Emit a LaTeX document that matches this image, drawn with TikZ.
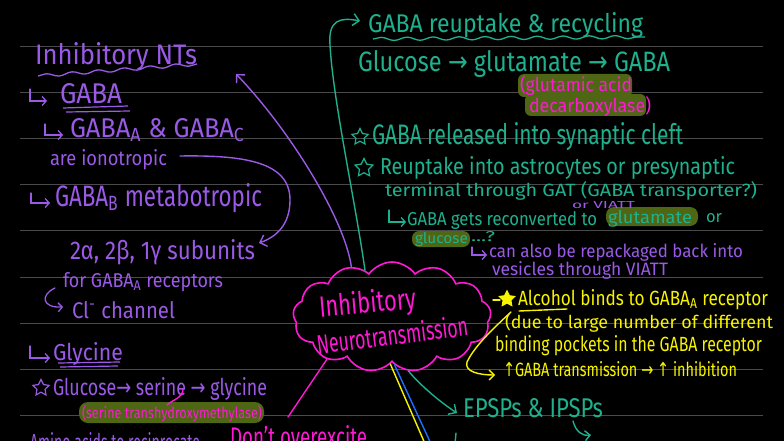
\documentclass[tikz,border=0pt]{standalone}
\usepackage{fontspec}
\usepackage{graphicx}
\setmainfont{Fira Sans}
\newfontfamily\sym{DejaVu Sans}
\usetikzlibrary{arrows.meta,shapes.symbols,shapes.geometric,decorations.pathmorphing}
\definecolor{cpurple}{HTML}{9A5AE6}
\definecolor{cteal}{HTML}{1FB08E}
\definecolor{cmag}{HTML}{FF19D4}
\definecolor{cyel}{HTML}{F8F400}
\definecolor{cblue}{HTML}{1F6FFF}
\definecolor{colive}{HTML}{4F6614}
\definecolor{crule}{HTML}{4A4A4A}
\newcommand\rsz[3]{\resizebox{#1pt}{#2pt}{#3}}
\tikzset{
 txt/.style={anchor=base west, inner sep=0pt, outer sep=0pt},
 conn/.style={line width=1.4pt, line cap=round},
 hook/.style={line width=1.3pt, line cap=round, -{Straight Barb[length=4pt,width=9pt]}},
 tip/.style={-{Straight Barb[length=6pt,width=12pt]}},
 hl/.style={fill=colive, rounded corners=6pt},
 rule/.style={draw=crule, line width=0.8pt},
 starn/.style={star, star points=5, star point ratio=2, draw, line width=1.2pt, inner sep=0pt},
 wavy/.style={decorate, decoration={snake, amplitude=1.6pt, segment length=26pt}, line width=1.3pt},
}
\begin{document}
\begin{tikzpicture}[x=1pt,y=-1pt]
\useasboundingbox (0,0) rectangle (784,441);
\fill[black] (0,0) rectangle (784,441);
\begin{scope}
\clip (0,0) rectangle (784,441);
\foreach \yy in {46,92.3,138.3,184.5,230.7,277,323.2,369.4,415.6}
  \draw[rule] (20,\yy) -- (763,\yy);

% highlights
\fill[hl] (518,74) rectangle (632,97);
\fill[hl] (525,94) rectangle (646,116);
\fill[hl, rounded corners=8pt] (606,207) rectangle (698,226);
\fill[hl, rounded corners=7pt] (412,231) rectangle (470,247);
\fill[hl, rounded corners=9pt] (79,402) rectangle (264,423);

% ---------- left column (purple)
\begin{scope}[cpurple]
\node[txt, text=cpurple] (t1) at (35,65) {\rsz{162}{22}{Inhibitory NTs}};
\draw[wavy, cpurple] (38,76) -- (197,64);
\draw[hook, cpurple] (30,89) |- (47,101);
\node[txt, text=cpurple] (t2) at (60,103) {\rsz{62}{20}{GABA}};
\draw[line width=1.2pt, cpurple] (63,108) -- (128,106);
\draw[line width=1.2pt, cpurple] (66,112) -- (130,111);
\draw[hook, cpurple] (45,124) |- (63,135);
\node[txt, text=cpurple] (t3) at (70,137) {\rsz{175}{19}{GABA\textsubscript{A} \& GABA\textsubscript{C}}};
\node[txt, text=cpurple] (t4) at (50,165) {\rsz{117}{16}{are ionotropic}};
\draw[hook, cpurple] (31,193) |- (50,203);
\node[txt, text=cpurple] (t5) at (55,206) {\rsz{207}{23}{GABA\textsubscript{B} metabotropic}};
\node[txt, text=cpurple] (t6) at (70,259) {\rsz{185}{20}{2α, 2β, 1γ subunits}};
\node[txt, text=cpurple] (t7) at (63,287) {\rsz{160}{15}{for GABA\textsubscript{A} receptors}};
\draw[hook, cpurple] (55,288) .. controls (40,295) and (42,308) .. (63,307);
\node[txt, text=cpurple] (t8) at (72,318) {\rsz{103}{17}{Cl\textsuperscript{-} channel}};
\draw[hook, cpurple] (30,346) |- (50,358);
\node[txt, text=cpurple] (t9) at (53,360) {\rsz{70}{18}{Glycine}};
\draw[line width=1.2pt, cpurple] (58,363) -- (120,362);
\draw[line width=1.2pt, cpurple] (60,367) -- (118,366);
\node[starn, draw=cpurple, minimum size=17pt] (s3) at (41,388) {};
\node[txt, text=cpurple] (t10) at (53,395) {\rsz{214}{18}{Glucose{\sym→} serine {\sym→} glycine}};
\node[txt, text=cpurple] (t12) at (30,450) {\rsz{170}{18}{Amino acids to reciprocate}};
\coordinate (t4end) at (180,156);
\coordinate (t6tip) at (259,243);
\draw[conn, tip, cpurple] (t4end) .. controls (245,155) and (290,162) .. (290,200) .. controls (290,225) and (276,237) .. (t6tip);
\end{scope}

% magenta left
\node[txt, text=cmag] (m1) at (82,418) {\rsz{180}{13}{(serine transhydroxymethylase)}};
\draw[conn, cmag] (183,389) .. controls (183,398) and (172,400) .. (167,405);
\node[txt, text=cmag] (m4) at (230,446) {\rsz{137}{21}{Don't overexcite}};

% ---------- cloud
\node[cloud, draw=cmag, line width=1.6pt, cloud puffs=13, cloud puff arc=110,
      minimum width=198pt, minimum height=110pt, inner sep=0pt] (cloud) at (392,317) {};
\node[txt, text=cmag, rotate=5] (c1) at (320,317) {\rsz{97}{23}{Inhibitory}};
\node[txt, text=cmag, rotate=7] (c2) at (318,354) {\rsz{152}{21}{Neurotransmission}};

% connectors from cloud
\coordinate (ntsarrow) at (236,74);
\draw[conn, tip, cpurple] (cloud.129) .. controls (345,220) and (290,130) .. (ntsarrow);
\coordinate (reup) at (360,21);
\draw[conn, tip, cteal] (cloud.120) .. controls (355,200) and (333,100) .. (330,45) .. controls (328,20) and (340,17) .. (reup);
\coordinate (dont) at (288,417);
\draw[conn, cmag] (cloud.213) -- (dont);
\coordinate (ybot) at (426,446);
\draw[conn, cyel] (cloud.268) -- (ybot);
\coordinate (bbot) at (432,446);
\draw[conn, cblue] (cloud.273) -- (bbot);
\coordinate (epin) at (457,413);
\draw[conn, tip, cteal] (cloud.287) .. controls (420,385) and (440,402) .. (epin);

% ---------- right teal
\node[txt, text=cteal] (r1) at (368,33) {\rsz{275}{20}{GABA reuptake \& recycling}};
\draw[wavy, cteal] (373,39) -- (645,37);
\node[txt, text=cteal] (r2) at (358,72) {\rsz{312}{21}{Glucose {\sym→} glutamate {\sym→} GABA}};
\node[txt, text=cmag] (m2) at (520,92) {\rsz{112}{16}{(glutamic acid}};
\node[txt, text=cmag] (m3) at (529,112) {\rsz{122}{16}{decarboxylase)}};
\node[starn, draw=cteal, minimum size=17pt] (s1) at (360,137) {};
\node[txt, text=cteal] (r4) at (372,145) {\rsz{311}{22}{GABA released into synaptic cleft}};
\node[starn, draw=cteal, minimum size=19pt] (s2) at (364,168) {};
\node[txt, text=cteal] (r5) at (380,175) {\rsz{355}{18}{Reuptake into astrocytes or presynaptic}};
\node[txt, text=cteal] (r6) at (385,196) {\rsz{372}{15}{terminal through GAT (GABA transporter?)}};
\node[txt, text=cpurple] (p1) at (572,208) {\rsz{63}{7}{or VIATT}};
\draw[hook, cteal] (389,210) |- (406,222);
\node[txt, text=cteal] (r8a) at (407,225) {\rsz{190}{14}{GABA gets reconverted to}};
\node[txt, text=cteal] (r8b) at (608,223) {\rsz{84}{13}{glutamate}};
\node[txt, text=cteal] (r8c) at (706,222) {\rsz{16}{9}{or}};
\node[txt, text=cteal] (r9a) at (415,243) {\rsz{53}{11}{glucose}};
\node[txt, text=cteal] (r9b) at (471,241) {\rsz{24}{10}{...?}};
\draw[hook, cpurple] (472,247) |- (487,255);
\node[txt, text=cpurple] (p2) at (489,257) {\rsz{254}{14}{can also be repackaged back into}};
\node[txt, text=cpurple] (p3) at (492,275) {\rsz{176}{14}{vesicles through VIATT}};

% ---------- yellow
\draw[conn, cyel] (493,300) -- (500,300);
\node[starn, draw=cyel, fill=cyel, minimum size=16pt] (s4) at (507,299) {};
\node[txt, text=cyel] (y1) at (518,305) {\rsz{250}{16}{Alcohol binds to GABA\textsubscript{A} receptor}};
\draw[conn, cyel] (519,311) -- (567,309);
\node[txt, text=cyel] (y2) at (505,328) {\rsz{268}{15}{(due to large number of different}};
\node[txt, text=cyel] (y3) at (495,351) {\rsz{267}{16}{binding pockets in the GABA receptor}};
\node[txt, text=cyel] (y4) at (503,376) {\rsz{234}{15}{{\sym↑}GABA transmission {\sym→} {\sym↑} inhibition}};
\coordinate (ystart) at (511,312);
\coordinate (yend) at (495,375);
\draw[conn, cyel, -{Straight Barb[length=5pt,width=10pt]}] (ystart) .. controls (497,325) and (475,345) .. (467,362) .. controls (464,372) and (480,375) .. (yend);

% ---------- EPSPs
\node[txt, text=cteal] (ep) at (463,417) {\rsz{140}{19}{EPSPs \& IPSPs}};
\coordinate (ipsA) at (573,421);
\coordinate (ipsB) at (591,435);
\draw[conn, cteal, -{Straight Barb[length=5pt,width=10pt]}] (ipsA) .. controls (576,432) and (582,436) .. (ipsB);
\coordinate (stA) at (456,433);
\coordinate (stB) at (455,444);
\draw[conn, cteal] (stA) -- (stB);
\end{scope}
\end{tikzpicture}
\end{document}
